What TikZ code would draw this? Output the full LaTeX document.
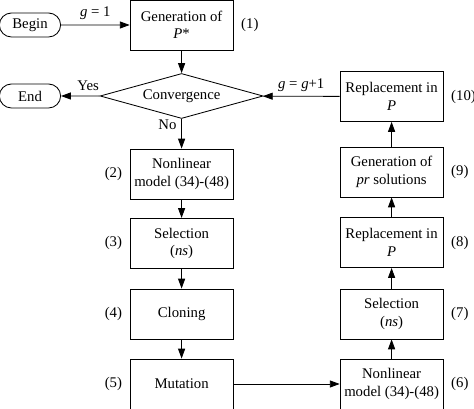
\documentclass[tikz,border=0pt]{standalone}
\usepackage{fontspec}
\setmainfont{Liberation Serif}
\usetikzlibrary{arrows.meta, positioning, shapes.geometric, shapes.misc}

\begin{document}
\begin{tikzpicture}[
    font=\fontsize{10.5}{12.5}\selectfont,
    stepbox/.style={draw, line width=0.6pt, minimum width=2.575cm,
      minimum height=1.25cm, align=center, inner sep=1pt},
    termbox/.style={draw, rounded rectangle, line width=0.6pt,
      minimum width=1.6cm, minimum height=0.6cm, inner sep=1pt},
    decide/.style={draw, diamond, aspect=3.6, inner sep=0pt, line width=0.6pt,
      minimum width=4.075cm, minimum height=1.125cm},
    flow/.style={-{Triangle[length=7pt,width=5pt]}, line width=0.6pt},
    tag/.style={inner sep=1pt}
  ]
  \useasboundingbox (0,0) rectangle (11.85,10.225);

  % left column
  \node[termbox] (begin) at (0.75, 9.6) {Begin};
  \node[stepbox] (gen) at (4.54, 9.6) {Generation of\\\textit{P}*};
  \node[decide] (conv) at (4.54, 7.825) {Convergence};
  \node[termbox] (stop) at (0.75, 7.825) {End};
  \node[stepbox] (model) at (4.54, 5.875) {Nonlinear\\model (34)-(48)};
  \node[stepbox] (sel) at (4.54, 4.14) {Selection\\(\textit{ns})};
  \node[stepbox] (clone) at (4.54, 2.375) {Cloning};
  \node[stepbox] (mut) at (4.54, 0.625) {Mutation};

  % right column
  \node[stepbox] (modelb) at (9.79, 0.625) {Nonlinear\\model (34)-(48)};
  \node[stepbox] (selb) at (9.79, 2.375) {Selection\\(\textit{ns})};
  \node[stepbox] (repb) at (9.79, 4.16) {Replacement in\\\textit{P}};
  \node[stepbox] (genpr) at (9.79, 5.925) {Generation of\\\textit{pr} solutions};
  \node[stepbox] (repl) at (9.79, 7.8125) {Replacement in\\\textit{P}};

  % step numbers
  \node[tag, right=0.15cm of gen] {(1)};
  \node[tag, left=0.15cm of model] {(2)};
  \node[tag, left=0.15cm of sel] {(3)};
  \node[tag, left=0.15cm of clone] {(4)};
  \node[tag, left=0.15cm of mut] {(5)};
  \node[tag, right=0.15cm of modelb] {(6)};
  \node[tag, right=0.15cm of selb] {(7)};
  \node[tag, right=0.15cm of repb] {(8)};
  \node[tag, right=0.15cm of genpr] {(9)};
  \node[tag, right=0.15cm of repl] {(10)};

  % connectors
  \draw[flow] (begin) -- node[above] {\textit{g} = 1} (gen);
  \draw[flow] (gen) -- (conv);
  \draw[flow] (conv) -- node[above, pos=0.3] {Yes} (stop);
  \draw[flow] (conv) -- node[left, pos=0.2] {No} (model);
  \draw[flow] (model) -- (sel);
  \draw[flow] (sel) -- (clone);
  \draw[flow] (clone) -- (mut);
  \draw[flow] (mut) -- (modelb);
  \draw[flow] (modelb) -- (selb);
  \draw[flow] (selb) -- (repb);
  \draw[flow] (repb) -- (genpr);
  \draw[flow] (genpr) -- (repl);
  \draw[flow] (repl) -- node[above] {\textit{g} = \textit{g}+1} (conv);
\end{tikzpicture}
\end{document}
